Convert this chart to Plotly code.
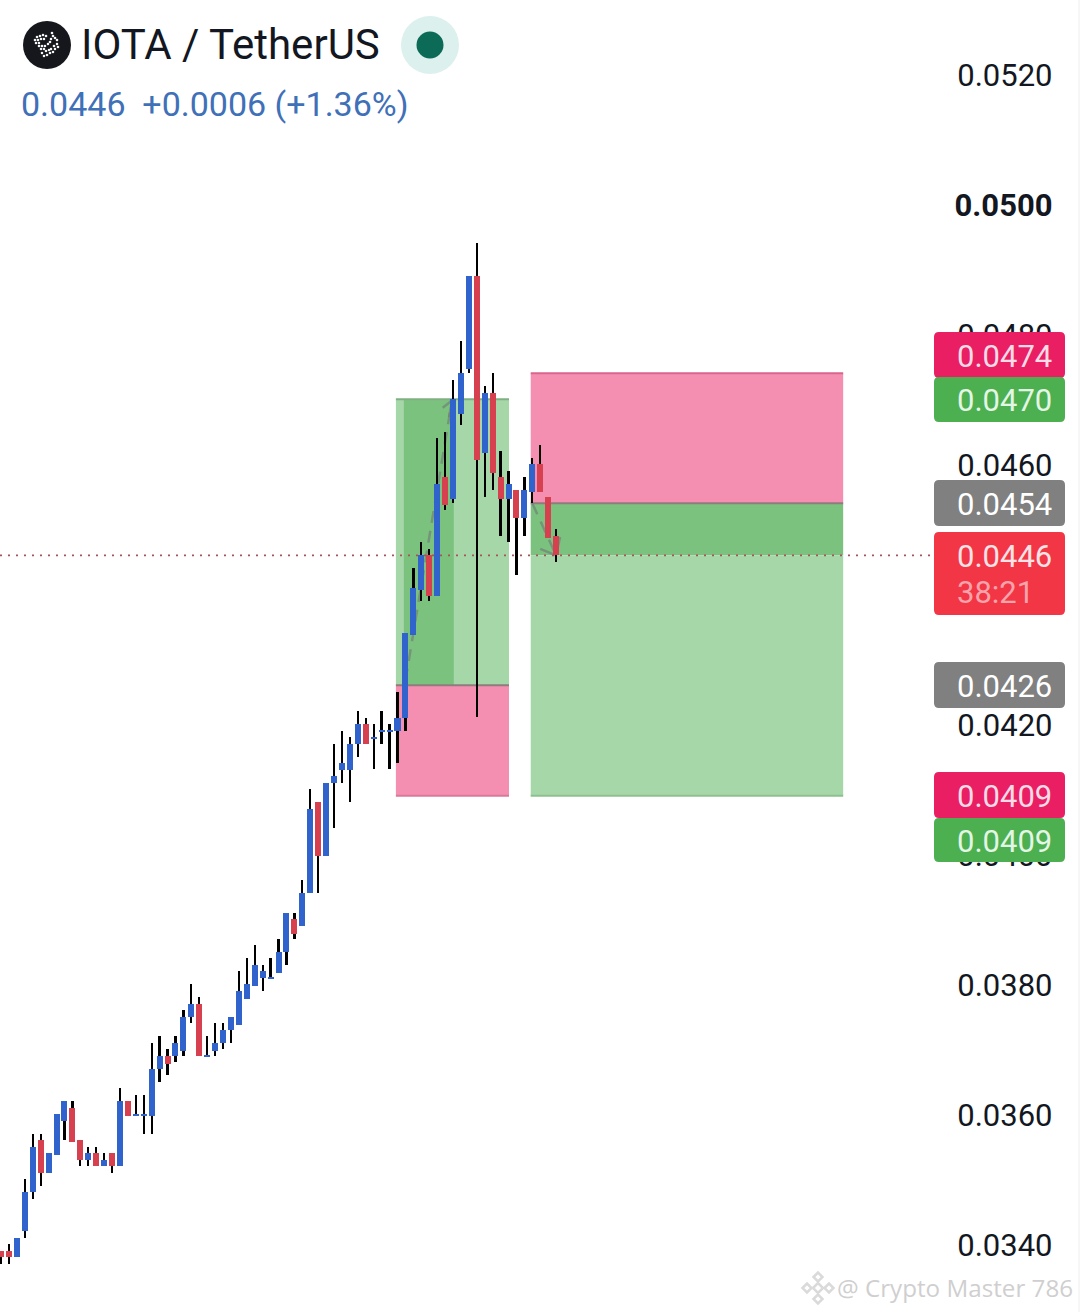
import plotly.graph_objects as go

# candles
opens = [.03392, .03392, .03382, .03422, .03482, .03562, .03511, .03540, .03591, .03612,
         .03562, .03531, .03542, .03522, .03542, .03522, .03622, .03600, .03600, .03600,
         .03671, .03692, .03691, .03700, .03751, .03772, .03691, .03700, .03711, .03731,
         .03740, .03780, .03800, .03811, .03811, .03820, .03851, .03902, .03891, .03942,
         .04082, .04000, .04111, .04131, .04131, .04171, .04202, .04180, .04191, .04191,
         .04191, .04211, .04340, .04409, .04462, .04400, .04582, .04549, .04680, .04749,
         .04891, .04620, .04711, .04582, .04549, .04562, .04520, .04560, .04602, .04551, .04491]
closes = [.03382, .03382, .03412, .03483, .03552, .03511, .03542, .03602, .03622, .03560,
          .03531, .03542, .03522, .03532, .03522, .03622, .03600, .03603, .03603, .03672,
          .03692, .03680, .03712, .03752, .03772, .03691, .03694, .03712, .03732, .03752,
          .03792, .03802, .03832, .03822, .03814, .03852, .03912, .03880, .03942, .04072,
          .04000, .04112, .04122, .04142, .04172, .04202, .04171, .04183, .04194, .04194,
          .04212, .04342, .04411, .04462, .04400, .04571, .04540, .04702, .04742, .04891,
          .04609, .04711, .04589, .04549, .04571, .04520, .04562, .04602, .04560, .04489, .04462]
highs = [.03392, .03403, .03412, .03503, .03572, .03572, .03542, .03602, .03622, .03622,
         .03562, .03552, .03552, .03542, .03542, .03642, .03622, .03632, .03632, .03712,
         .03722, .03702, .03722, .03762, .03802, .03782, .03722, .03742, .03742, .03752,
         .03822, .03842, .03862, .03832, .03842, .03872, .03912, .03912, .03962, .04102,
         .04082, .04112, .04172, .04192, .04182, .04222, .04212, .04202, .04222, .04202,
         .04252, .04342, .04442, .04482, .04471, .04642, .04651, .04731, .04791, .04891,
         .04942, .04722, .04742, .04622, .04591, .04562, .04582, .04611, .04631, .04551, .04502]
lows = [.03372, .03372, .03382, .03412, .03472, .03492, .03511, .03540, .03562, .03560,
        .03523, .03523, .03522, .03522, .03512, .03522, .03600, .03600, .03572, .03572,
        .03652, .03662, .03682, .03692, .03742, .03691, .03691, .03692, .03703, .03712,
        .03740, .03780, .03800, .03792, .03811, .03820, .03832, .03872, .03891, .03942,
        .03942, .04000, .04042, .04112, .04082, .04152, .04171, .04134, .04172, .04134,
        .04142, .04192, .04340, .04391, .04391, .04400, .04531, .04542, .04662, .04742,
        .04214, .04551, .04562, .04491, .04482, .04432, .04491, .04542, .04560, .04489, .04451]

# axis labels
tick_vals = [.0520, .0500, .0480, .0460, .0420, .0400, .0380, .0360, .0340]
tick_text = ["0.0520", "<b>0.0500</b>", "0.0480", "0.0460", "0.0420", "0.0400", "0.0380", "0.0360", "0.0340"]

# long and short position boxes: left, entry edge, right, prices
left_box = [49.8, 50.8, 57.1, 64.06]
right_box = [66.8, 106.2]
left_target, left_entry, left_stop = .04702, .04262, .04092
right_stop, right_entry, right_now, right_target = .04742, .04542, .04462, .04092
last_price = .04462

# projected path arrows (index, price)
path_up = ([51, 56.87], [.04269, .04700])
path_down = ([67, 70], [.04542, .04462])

# price badges: text, top px, bottom px, fill, text colour
badges = [
    ("0.0474", 332, 378, "#e91e63", "#fbdbe6"),
    ("0.0470", 377, 422, "#4caf50", "#e3f5e4"),
    ("0.0454", 480, 526, "#808080", "#ffffff"),
    ("0.0426", 662, 708, "#808080", "#ffffff"),
    ("0.0409", 772, 818, "#e91e63", "#fbdbe6"),
    ("0.0409", 818, 862, "#4caf50", "#e3f5e4"),
]

W, H = 1080, 1312
BLUE, RED = "#3163cc", "#d6404f"


def px(x):
    return x / W


def py(y):
    return 1 - y / H


def rounded(x0, y0, x1, y1, r=5):
    # rectangle with rounded corners, in paper fractions
    return (f"M {px(x0 + r)} {py(y0)} L {px(x1 - r)} {py(y0)} Q {px(x1)} {py(y0)} {px(x1)} {py(y0 + r)} "
            f"L {px(x1)} {py(y1 - r)} Q {px(x1)} {py(y1)} {px(x1 - r)} {py(y1)} L {px(x0 + r)} {py(y1)} "
            f"Q {px(x0)} {py(y1)} {px(x0)} {py(y1 - r)} L {px(x0)} {py(y0 + r)} Q {px(x0)} {py(y0)} {px(x0 + r)} {py(y0)} Z")


def circle(cx, cy, r, color):
    return dict(type="circle", xref="paper", yref="paper", x0=px(cx - r), x1=px(cx + r),
                y0=py(cy + r), y1=py(cy - r), fillcolor=color, line_width=0, layer="above")


def rect(x0, x1, y0, y1, color):
    return dict(type="rect", xref="x", yref="y", x0=x0, x1=x1, y0=y0, y1=y1,
                fillcolor=color, line_width=0, layer="below")


def hline(x0, x1, y, color, width=2):
    return dict(type="line", xref="x", yref="y", x0=x0, x1=x1, y0=y, y1=y,
                line=dict(color=color, width=width), layer="below")


def text(x, y, s, size, color, family="Roboto"):
    return dict(xref="paper", yref="paper", x=px(x), y=py(y), text=s, showarrow=False,
                xanchor="left", yanchor="middle", xshift=0, align="left",
                font=dict(family=family, size=size, color=color))


index = list(range(len(opens)))
body_base = [min(o, c) for o, c in zip(opens, closes)]
body_height = [abs(o - c) for o, c in zip(opens, closes)]
colors = [BLUE if c >= o else RED for o, c in zip(opens, closes)]

fig = go.Figure()
fig.add_trace(go.Bar(x=index, base=lows, y=[h - l for h, l in zip(highs, lows)], width=0.29,
                     marker=dict(color="#000000", line_width=0), hoverinfo="skip"))
fig.add_trace(go.Bar(x=index, base=body_base, y=body_height, width=0.76,
                     marker=dict(color=colors, line_width=0)))

shapes = []
# position boxes
shapes.append(rect(left_box[0], left_box[3], left_entry, left_target, "#a6d7a8"))
shapes.append(rect(left_box[1], left_box[2], left_entry, left_target, "#7cc27f"))
shapes.append(rect(left_box[0], left_box[3], left_stop, left_entry, "#f48fb1"))
shapes.append(rect(right_box[0], right_box[1], right_entry, right_stop, "#f48fb1"))
shapes.append(rect(right_box[0], right_box[1], right_now, right_entry, "#7cc27f"))
shapes.append(rect(right_box[0], right_box[1], right_target, right_now, "#a6d7a8"))
shapes.append(hline(left_box[0], left_box[3], left_target, "#7fb083"))
shapes.append(hline(left_box[0], left_box[3], left_entry, "#8f7d7d"))
shapes.append(hline(left_box[0], left_box[3], left_stop, "#d9789c"))
shapes.append(hline(right_box[0], right_box[1], right_stop, "#d9648f"))
shapes.append(hline(right_box[0], right_box[1], right_entry, "#8f7d7d"))
shapes.append(hline(right_box[0], right_box[1], right_target, "#8cc08e"))

# projected paths with arrow heads
for xs, ys in (path_up, path_down):
    shapes.append(dict(type="line", xref="x", yref="y", x0=xs[0], x1=xs[1], y0=ys[0], y1=ys[1],
                       line=dict(color="rgba(110,120,120,0.6)", width=2.5, dash="12px,8px"), layer="below"))
arrow_color = "rgba(110,120,120,0.6)"
shapes.append(dict(type="line", xref="x", yref="y", x0=55.7, x1=56.87, y0=.04689, y1=.04700,
                   line=dict(color=arrow_color, width=2.5), layer="below"))
shapes.append(dict(type="line", xref="x", yref="y", x0=56.5, x1=56.87, y0=.04675, y1=.04700,
                   line=dict(color=arrow_color, width=2.5), layer="below"))
shapes.append(dict(type="line", xref="x", yref="y", x0=68, x1=70, y0=.04472, y1=.04462,
                   line=dict(color=arrow_color, width=2.5), layer="below"))
shapes.append(dict(type="line", xref="x", yref="y", x0=70.5, x1=70, y0=.04490, y1=.04462,
                   line=dict(color=arrow_color, width=2.5), layer="below"))

# last price dotted line
shapes.append(dict(type="line", xref="paper", yref="y", x0=0, x1=px(932), y0=last_price, y1=last_price,
                   line=dict(color="#a8525a", width=1.8, dash="2px,6px"), layer="above"))

# right hand gutter line
shapes.append(dict(type="line", xref="paper", yref="paper", x0=px(1079), x1=px(1079), y0=0, y1=1,
                   line=dict(color="#eeeeee", width=1), layer="above"))

annotations = []
for label, top, bottom, fill, ink in badges:
    shapes.append(dict(type="path", xref="paper", yref="paper", path=rounded(934, top, 1065, bottom),
                       fillcolor=fill, line_width=0, layer="above"))
    annotations.append(text(955, (top + bottom) / 2 + 1, label, 31, ink))

# current price badge with countdown
shapes.append(dict(type="path", xref="paper", yref="paper", path=rounded(934, 532, 1065, 615),
                   fillcolor="#f23645", line_width=0, layer="above"))
annotations.append(text(955, 556, "0.0446", 31, "#fde3e5"))
annotations.append(text(955, 593, "38:21", 31, "#f9a3aa"))

# header
shapes.append(circle(47, 45, 24, "#15171c"))
dots = [(-10, -8), (-7, -9), (-4, -10), (-1, -9), (-12, -5), (-9, -5), (-6, -6), (-3, -6), (-11, -2),
        (-8, -2), (5, -12), (6, -9), (8, -7), (4, -6), (10, -5), (3, -3), (10, -1), (7, 1), (11, 2),
        (8, 4), (4, 4), (6, 7), (3, 8), (0, 10), (-1, 6), (2, 5), (-3, 11), (-5, 8), (-3, 4), (-6, 4),
        (-8, 1), (-5, 1), (-2, 1), (1, -1)]
for dx, dy in dots:
    shapes.append(circle(47 + dx, 45 + dy, 1.3, "#f5f5f5"))
shapes.append(circle(430, 45, 29, "#dcf0ed"))
shapes.append(circle(430, 45, 13.5, "#0b6b57"))
annotations.append(text(79, 44, "IOTA / TetherUS", 42, "#131722"))
annotations.append(text(19, 104, "0.0446&nbsp;&nbsp;+0.0006 (+1.36%)", 34, "#3f70b8"))

# watermark
annotations.append(text(835, 1287, "@ Crypto Master 786", 24.2, "#cfcfcf", "Open Sans"))
for cx, cy, r in [(818, 1288, 5), (818, 1277, 4.5), (818, 1299, 4.5), (807, 1288, 4.5), (829, 1288, 4.5)]:
    shapes.append(dict(type="path", xref="paper", yref="paper",
                       path=f"M {px(cx - r)} {py(cy)} L {px(cx)} {py(cy - r)} L {px(cx + r)} {py(cy)} L {px(cx)} {py(cy + r)} Z",
                       line=dict(color="#dadada", width=2.5), fillcolor="rgba(0,0,0,0)", layer="above"))

fig.update_layout(
    width=W, height=H, margin=dict(l=0, r=0, t=0, b=0, pad=0),
    paper_bgcolor="#ffffff", plot_bgcolor="#ffffff",
    showlegend=False, barmode="overlay", bargap=0,
    shapes=shapes, annotations=annotations,
    xaxis=dict(range=[-1 / 7.93, 1079 / 7.93], visible=False, fixedrange=True),
    yaxis=dict(range=[(3455 - H + 0.6) / 65000, (3455 + 0.6) / 65000], side="right", anchor="free", position=px(1055.5),
               ticklabelposition="inside", tickmode="array", tickvals=tick_vals, ticktext=tick_text,
               tickfont=dict(family="Roboto", size=31, color="#131722"), ticks="", showgrid=False,
               zeroline=False, showline=False, fixedrange=True),
)

fig.write_html("out.html", config={"displayModeBar": False},
               post_script="document.body.style.margin='0';document.body.style.overflow='hidden';")
